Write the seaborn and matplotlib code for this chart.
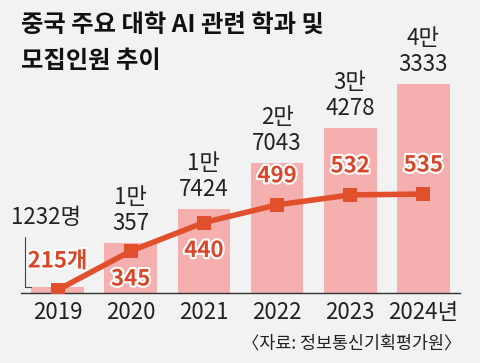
import matplotlib
matplotlib.use("Agg")
import matplotlib.pyplot as plt
import matplotlib.patheffects as pe
import numpy as np
import seaborn as sns

years = ["2019", "2020", "2021", "2022", "2023", "2024"]
tick_labels = ["2019", "2020", "2021", "2022", "2023", "2024년"]
recruits = [1232, 10357, 17424, 27043, 34278, 43333]  # 모집인원 (명)
departments = [215, 345, 440, 499, 532, 535]  # 학과 수 (개)
title_lines = ["중국 주요 대학 AI 관련 학과 및", "모집인원 추이"]
source = "〈자료: 정보통신기획평가원〉"

BG = "#f2f2f2"
BAR = "#f4afae"
LINE = "#e0502d"
LABEL_RED = "#d9472a"
DARK = "#222222"
NUM_FONT = ["Liberation Sans Narrow", "Noto Sans CJK KR", "DejaVu Sans"]
KR_FONT = ["Noto Sans CJK KR", "DejaVu Sans"]

sns.set_theme(style="white")
plt.rcParams["font.family"] = KR_FONT
plt.rcParams["axes.unicode_minus"] = False

fig = plt.figure(figsize=(4.8, 3.63), dpi=100, facecolor=BG)
ax = fig.add_axes([21 / 480, 70 / 363, 439 / 480, 233 / 363])
ax.set_facecolor("none")

sns.barplot(x=years, y=recruits, color=BAR, width=0.72, saturation=1, ax=ax, edgecolor="none")
ax.set_ylim(0, 48340)
ax.set_xlim(-0.5, len(years) - 0.5)

# bar labels (black)
for i, v in enumerate(recruits):
    if v < 10000:
        ax.annotate(f"{v}명", xy=(i, v), xytext=(-12, 70), textcoords="offset pixels",
                    ha="center", va="center", fontsize=16, color=DARK, family=NUM_FONT)
        ax.annotate("", xy=(i - 0.36, v), xytext=(-6, 50), textcoords="offset pixels",
                    arrowprops=dict(arrowstyle="-", connectionstyle="angle,angleA=90,angleB=0,rad=0",
                                    shrinkA=0, shrinkB=0, lw=0.8, color="#444444"))
    else:
        ax.annotate(f"{v // 10000}만\n{v % 10000}", xy=(i, v), xytext=(0, 8), textcoords="offset pixels",
                    ha="center", va="bottom", fontsize=16, color=DARK, family=NUM_FONT,
                    linespacing=1.15)

# line on secondary axis
ax2 = ax.twinx()
pos = np.arange(len(years))
sns.lineplot(x=pos, y=departments, color=LINE, lw=4, marker="s", markersize=10,
             markeredgewidth=0, ax=ax2)
ax2.set_ylim(205, 982)
ax2.set_xlim(-0.5, len(years) - 0.5)

label_up = [True, False, False, True, True, True]
for i, v in enumerate(departments):
    txt = f"{v}개" if i == 0 else f"{v}"
    dy = 29 if label_up[i] else -28
    ax2.annotate(txt, xy=(i, v), xytext=(0, dy), textcoords="offset pixels",
                 ha="center", va="center", fontsize=16, fontweight="bold", color=LABEL_RED,
                 family=NUM_FONT,
                 path_effects=[pe.withStroke(linewidth=3, foreground="white")])

for a in (ax, ax2):
    for s in a.spines.values():
        s.set_visible(False)
    a.set_yticks([])
    a.set_ylabel("")
ax.spines["bottom"].set_visible(True)
ax.spines["bottom"].set_color("#333333")
ax.spines["bottom"].set_linewidth(1)

ax.set_xticks(pos)
ax.set_xticklabels(tick_labels, fontsize=16, color=DARK, family=NUM_FONT)
ax.tick_params(axis="x", length=0, pad=6)
ax2.tick_params(axis="x", length=0)

fig.text(21 / 480, 1 - 25 / 363, title_lines[0], fontsize=17.5, fontweight="heavy",
         color="#111111", ha="left", va="center")
fig.text(21 / 480, 1 - 61 / 363, title_lines[1], fontsize=17.5, fontweight="heavy",
         color="#111111", ha="left", va="center")
fig.text(461 / 480, 1 - 343 / 363, source, fontsize=12.5, color=DARK, ha="right", va="center")

fig.savefig("out.png", dpi=100, facecolor=BG)
